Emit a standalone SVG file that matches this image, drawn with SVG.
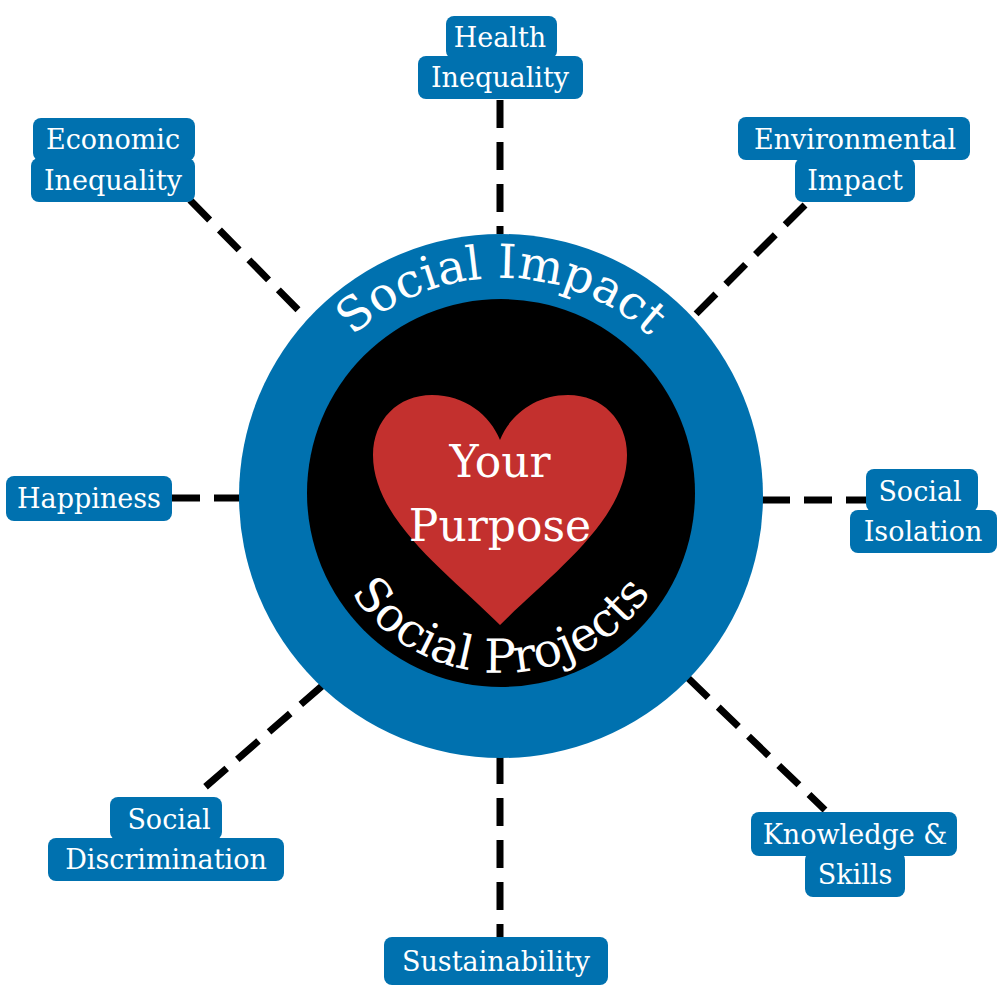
<svg xmlns="http://www.w3.org/2000/svg" width="1000" height="1000" viewBox="0 0 1000 1000">
<style>
.lb{fill:#0071AF}
.t{fill:#fff;font-family:"DejaVu Serif","Liberation Serif",serif;font-size:27px;text-anchor:middle}
.c{stroke:#000;stroke-width:7;stroke-dasharray:28 14;fill:none}
.arc{fill:#fff;font-family:"DejaVu Serif","Liberation Serif",serif;font-size:47px}
</style>
<defs>
<path id="top" d="M 283 496 A 218 218 0 0 1 719 496"/>
<path id="bot" d="M 321 493 A 180 180 0 0 0 681 493"/>
</defs>
<rect width="1000" height="1000" fill="#fff"/>
<g id="connectors">
<line class="c" x1="500" y1="100" x2="500" y2="234"/>
<line class="c" x1="500" y1="756" x2="500" y2="940"/>
<line class="c" x1="172" y1="498" x2="241" y2="498"/>
<line class="c" x1="762" y1="500" x2="866" y2="500"/>
<line class="c" x1="190" y1="200" x2="308" y2="320"/>
<line class="c" x1="805" y1="205" x2="692" y2="318"/>
<line class="c" x1="322" y1="686" x2="196" y2="795"/>
<line class="c" x1="688" y1="678" x2="825" y2="810"/>
</g>
<g id="center">
<circle cx="501" cy="496" r="262" fill="#0071AF"/>
<circle cx="501" cy="493" r="194" fill="#000"/>
<path d="M500 625 C 450 575 373 520 373 455 C 373 420 398 395 432 395 C 465 395 490 415 500 440 C 510 415 535 395 568 395 C 602 395 627 420 627 455 C 627 520 550 575 500 625 Z" fill="#C3302E"/>
<text class="t" x="500" y="477" style="font-size:44px">Your</text>
<text class="t" x="500" y="541" style="font-size:44px">Purpose</text>
<text class="arc"><textPath href="#top" startOffset="50%" text-anchor="middle">Social Impact</textPath></text>
<text class="arc"><textPath href="#bot" startOffset="50%" text-anchor="middle">Social Projects</textPath></text>
</g>
<g id="health"><rect class="lb" x="446" y="16" width="111" height="43" rx="8"/><rect class="lb" x="418" y="56" width="165" height="43" rx="8"/><text class="t" x="500" y="47">Health</text><text class="t" x="500" y="87">Inequality</text></g>
<g id="economic"><rect class="lb" x="33" y="118" width="162" height="43" rx="8"/><rect class="lb" x="31" y="158" width="164" height="44" rx="8"/><text class="t" x="113" y="149">Economic</text><text class="t" x="113" y="190">Inequality</text></g>
<g id="environmental"><rect class="lb" x="738" y="117" width="232" height="43" rx="8"/><rect class="lb" x="795" y="158" width="120" height="44" rx="8"/><text class="t" x="855" y="149">Environmental</text><text class="t" x="855" y="190">Impact</text></g>
<g id="happiness"><rect class="lb" x="6" y="476" width="166" height="45" rx="8"/><text class="t" x="89" y="508">Happiness</text></g>
<g id="isolation"><rect class="lb" x="866" y="469" width="112" height="43" rx="8"/><rect class="lb" x="850" y="510" width="147" height="43" rx="8"/><text class="t" x="920" y="501">Social</text><text class="t" x="923" y="541">Isolation</text></g>
<g id="discrimination"><rect class="lb" x="110" y="797" width="112" height="43" rx="8"/><rect class="lb" x="48" y="838" width="236" height="43" rx="8"/><text class="t" x="169" y="829">Social</text><text class="t" x="166" y="869">Discrimination</text></g>
<g id="knowledge"><rect class="lb" x="751" y="812" width="206" height="44" rx="8"/><rect class="lb" x="805" y="852" width="100" height="45" rx="8"/><text class="t" x="855" y="844">Knowledge &amp;</text><text class="t" x="855" y="884">Skills</text></g>
<g id="sustainability"><rect class="lb" x="384" y="937" width="224" height="48" rx="8"/><text class="t" x="496" y="971">Sustainability</text></g>
</svg>
